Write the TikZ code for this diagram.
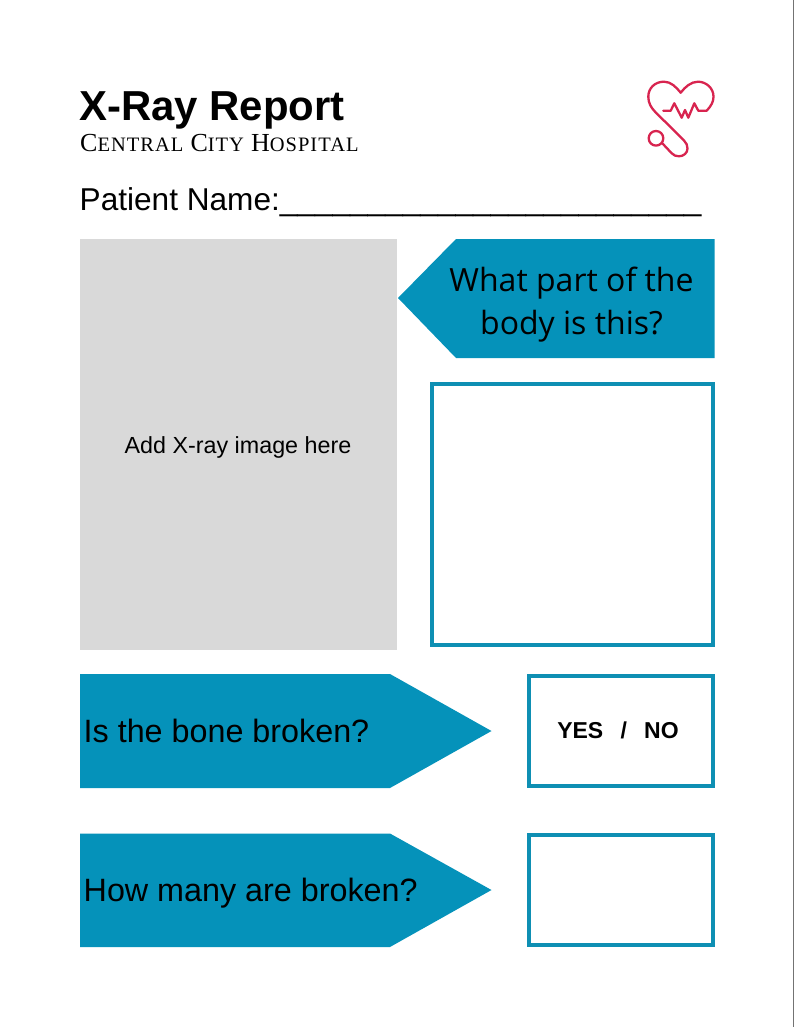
\documentclass[tikz,border=0pt]{standalone}
\usepackage{fontspec}
\setmainfont{Liberation Sans}
\newfontfamily\opensans{Open Sans}
\newfontfamily\capsfont[LetterSpace=5]{Liberation Serif}
\definecolor{teal}{HTML}{0592BA}
\definecolor{tealline}{HTML}{0E8FB3}
\definecolor{panel}{HTML}{D9D9D9}
\definecolor{heart}{HTML}{D8244F}
\newcommand{\fs}[1]{\fontsize{#1}{#1}\selectfont}
\newcommand{\hosp}[2]{{\fs{26}#1}{\fs{20.5}#2}}
\tikzset{
  x=1pt,y=-1pt,
  label text/.style={inner sep=0pt,text=black},
  banner/.style={fill=teal,draw=none},
  answerbox/.style={draw=tealline,line width=4pt,fill=white},
  icon/.style={draw=heart,line width=2.3pt,line cap=round,line join=round}
}
\begin{document}
\begin{tikzpicture}
\useasboundingbox (0,0) rectangle (794,1027);
\fill[white] (0,0) rectangle (794,1027);
\draw[line width=1pt,draw=black!55] (793.3,0) -- (793.3,1027);
% heading
\node[label text,anchor=base west,font=\bfseries\fs{41.9}] (title) at (79,120.5) {X-Ray Report};
\node[label text,anchor=base west,font=\capsfont] (hospital) at (80,151.5) {\hosp{C}{ENTRAL}\hspace{7pt}\hosp{C}{ITY}\hspace{7pt}\hosp{H}{OSPITAL}};
\node[label text,anchor=base west,font=\fs{31.6}] (patient) at (79.5,211) {Patient Name:\_\_\_\_\_\_\_\_\_\_\_\_\_\_\_\_\_\_\_\_\_\_\_\_};
% icon
\draw[icon] (663.3,110.7) -- (670.7,110.7) -- (674.3,103.3) -- (681.7,117.7) -- (685,110) -- (688.3,117.7) -- (694.3,103.3) -- (698.3,110.7) -- (706.7,110.7)
  .. controls (711,106) and (713.5,102) .. (713.5,96.7)
  .. controls (713.5,88) and (706,81.7) .. (698,81.7)
  .. controls (691,81.7) and (685,87) .. (680.7,92.7)
  .. controls (676,87) and (671,81.7) .. (664,81.7)
  .. controls (655,81.7) and (648.3,88) .. (648.3,96.7)
  .. controls (648.3,103) and (651,107.5) .. (655,111.7)
  -- (684,140.5)
  .. controls (686.5,143) and (687.5,145.5) .. (687.5,148.5)
  .. controls (687.5,153) and (683.5,156.3) .. (679,156.3)
  .. controls (676,156.3) and (674,155.5) .. (671.7,153.3)
  -- (662.5,143.5);
\draw[icon] (656,138.3) circle[radius=7.3];
% panels
\node[fill=panel,minimum width=317pt,minimum height=411pt,inner sep=0pt,anchor=north west] (xray) at (80,239) {};
\node[label text,font=\fs{23.3}] (xraytext) at (238,447) {Add X-ray image here};
\fill[banner] (398,298) -- (456,239) -- (714.5,239) -- (714.5,358) -- (456,358) -- cycle;
\node[label text,font=\opensans\fs{32},align=center] (part) at (571.5,304.5) {What part of the\\[11pt]body is this?};
\draw[answerbox] (431.5,383.5) rectangle (712.5,645);
\fill[banner] (80,674) -- (390,674) -- (491.5,731) -- (390,788) -- (80,788) -- cycle;
\node[label text,anchor=base west,font=\fs{32.3}] (broken) at (83.5,742) {Is the bone broken?};
\draw[answerbox] (528.5,675.5) rectangle (712.5,786);
\node[label text,font=\bfseries\fs{23}] (yesno) at (618,730.5) {YES\hspace{0.75em}/\hspace{0.75em}NO};
\fill[banner] (80,833.5) -- (390,833.5) -- (491.5,890) -- (390,947) -- (80,947) -- cycle;
\node[label text,anchor=base west,font=\fs{32.3}] (many) at (83.5,901.5) {How many are broken?};
\draw[answerbox] (528.5,835) rectangle (712.5,945);
\end{tikzpicture}
\end{document}
